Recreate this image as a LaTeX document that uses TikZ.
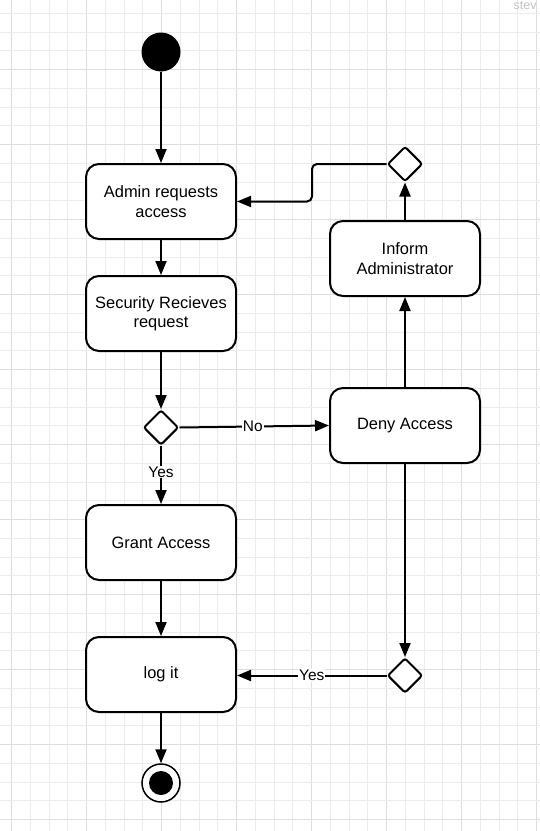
\documentclass[tikz,border=0pt]{standalone}
\usepackage{fontspec}
\setmainfont{Liberation Sans}
\usetikzlibrary{arrows.meta,shapes.geometric}
\definecolor{gridminor}{RGB}{236,236,236}
\definecolor{gridmajor}{RGB}{222,222,222}
\definecolor{wmark}{RGB}{195,195,195}
\begin{document}
\begin{tikzpicture}[x=1bp,y=-1bp,
  box/.style={draw=black, line width=2bp, rounded corners=13bp, minimum width=150bp, minimum height=75bp, fill=white, align=center, font=\fontsize{16.5}{19.5}\selectfont, inner sep=0pt},
  decision/.style={draw=black, diamond, line width=2bp, minimum width=35bp, minimum height=35bp, inner sep=0pt, rounded corners=2.5bp, fill=white},
  flow/.style={line width=2bp, -{Triangle[length=14bp,width=11bp]}},
  lbl/.style={fill=white, inner sep=1bp, font=\fontsize{15.5}{18}\selectfont},
]
\useasboundingbox (0,0) rectangle (540,831);
\fill[white] (0,0) rectangle (540,831);
% grid
\foreach \k in {0,...,28}{
  \pgfmathtruncatemacro\m{mod(\k,4)}
  \ifnum\m=0 \def\gc{gridmajor}\else\def\gc{gridminor}\fi
  \draw[\gc, line width=1bp] ({11.5+18.75*\k},0) -- ({11.5+18.75*\k},831);
}
\foreach \k in {0,...,43}{
  \pgfmathtruncatemacro\m{mod(\k,4)}
  \ifnum\m=3 \def\gc{gridmajor}\else\def\gc{gridminor}\fi
  \draw[\gc, line width=1bp] (0,{13.45+18.75*\k}) -- (540,{13.45+18.75*\k});
}
% watermark
\node[anchor=base west, inner sep=0pt, text=wmark, font=\fontsize{12.5}{14}\selectfont] (wm) at (513.5,9) {stev};
% nodes
\node[circle, fill=black, minimum size=39bp, inner sep=0pt] (start) at (161,52) {};
\node[box] (admin) at (161,201.5) {Admin requests\\access};
\node[box] (sec) at (161,313.5) {Security Recieves\\request};
\node[decision] (d1) at (161,427.5) {};
\node[box] (grant) at (161,542.5) {Grant Access};
\node[box] (log) at (161,674.5) {log it};
\node[circle, draw=black, line width=1.5bp, fill=white, minimum size=38bp, inner sep=0pt] (end) at (161,783) {};
\node[circle, fill=black, minimum size=24bp, inner sep=0pt] (endin) at (161,783) {};
\node[box] (deny) at (405,425.5) {Deny Access};
\node[box] (inform) at (405,258.5) {Inform\\Administrator};
\node[decision] (d2) at (405,164) {};
\node[decision] (d3) at (405,675.5) {};
\coordinate (bend) at (312,164);
% connectors
\draw[flow] (start) -- (admin);
\draw[flow] (admin) -- (sec);
\draw[flow] (sec) -- (d1);
\draw[flow] (d1.east) -- node[lbl, pos=0.49] {No} (deny.west);
\draw[flow] (d1.south) -- node[lbl, pos=0.45] {Yes} (grant.north);
\draw[flow] (grant) -- (log);
\draw[flow] (log) -- (end);
\draw[flow] (deny) -- (inform);
\draw[flow] (inform) -- (d2);
\draw[flow, rounded corners=5bp] (d2.west) -- (bend) |- (admin.east);
\draw[flow] (deny) -- (d3);
\draw[flow] (d3.west) -- node[lbl, pos=0.5] {Yes} (log.east |- d3.west);
\end{tikzpicture}
\end{document}
